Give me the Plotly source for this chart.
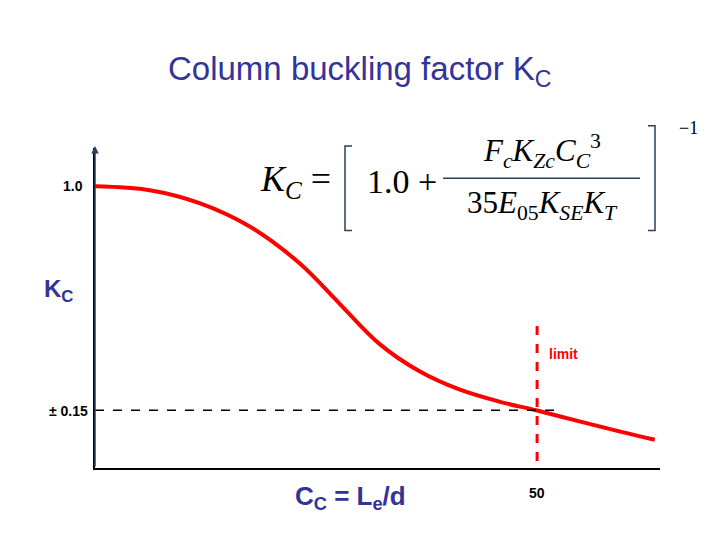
import plotly.graph_objects as go

cc = [0, 6.2, 11.9, 17.5, 23.2, 27.7, 32.2, 36.7, 41.2, 45.7, 50, 54.9, 59.4, 63.3]
kc = [1.0, 0.985, 0.935, 0.847, 0.706, 0.553, 0.401, 0.298, 0.229, 0.183, 0.149, 0.107, 0.069, 0.038]
limit_c = 50
kc_min = 0.15

BLUE = "#333399"
OFF = 8
L, R, T, B = 95 - OFF, 660 - OFF, 150 - OFF, 468 - OFF
def px(x): return (x - OFF - L) / (R - L)
def py(y): return (B - (y - OFF)) / (B - T)

fig = go.Figure()
fig.add_trace(go.Scatter(x=cc, y=kc, mode="lines", line=dict(color="red", width=4, shape="spline"),
                         hoverinfo="skip"))
fig.add_trace(go.Scatter(x=[limit_c, limit_c], y=[0.47, -0.069], mode="lines",
                         line=dict(color="red", width=3, dash="dash"), hoverinfo="skip"))
fig.add_trace(go.Scatter(x=[0, 52.5], y=[kc_min, kc_min], mode="lines",
                         line=dict(color="black", width=1.5, dash="dash"), hoverinfo="skip"))

ann = []
def t(x, y, text, size, color="black", family="Arial", bold=False, xanchor="center"):
    if bold: text = "<b>" + text + "</b>"
    ann.append(dict(x=px(x), y=py(y), xref="paper", yref="paper", text=text, showarrow=False,
                    font=dict(size=size, color=color, family=family), xanchor=xanchor, yanchor="middle"))

t(360, 73, "Column buckling factor K<sub>C</sub>", 33, BLUE, "Arial")
t(85, 188, "1.0", 14, bold=True, xanchor="right")
t(90, 411, "± 0.15", 14, bold=True, xanchor="right")
t(537, 493, "50", 14, bold=True)
t(547, 355, "limit", 14, "red", bold=True, xanchor="left")
t(58, 292, "K<sub>C</sub>", 24, BLUE, bold=True)
t(350, 497, "C<sub>C</sub> = L<sub>e</sub>/d", 26, BLUE, bold=True)
TF = "Liberation Serif, Times New Roman, serif"
t(295, 183, "<i>K<sub>C</sub></i> =", 36, family=TF)
t(402, 183, "1.0 +", 34, family=TF)
t(542, 153, "<i>F<sub>c</sub>K<sub>Zc</sub>C<sub>C</sub></i><sup>3</sup>", 31, family=TF)
t(542, 207, "35<i>E</i><sub>05</sub><i>K<sub>SE</sub>K<sub>T</sub></i>", 31, family=TF)
t(688, 130, "−1", 18, family=TF)

ann.append(dict(x=0, y=py(148), ax=0, ay=py(468), xref="x domain", yref="y domain",
                axref="x domain", ayref="y domain", showarrow=True, arrowhead=2, arrowsize=1, arrowwidth=1.5, text=""))

shapes = [
    dict(type="line", xref="paper", yref="paper", x0=px(443), x1=px(640), y0=py(180), y1=py(180), line=dict(width=1.5)),
    dict(type="path", xref="paper", yref="paper",
         path=f"M {px(352)} {py(148)} L {px(345)} {py(148)} L {px(345)} {py(232)} L {px(352)} {py(232)}", line=dict(width=1.5)),
    dict(type="path", xref="paper", yref="paper",
         path=f"M {px(648)} {py(128)} L {px(655)} {py(128)} L {px(655)} {py(232)} L {px(648)} {py(232)}", line=dict(width=1.5)),
]

fig.update_layout(
    width=720, height=540, margin=dict(l=L, r=720 - R, t=T - 2, b=540 - B),
    paper_bgcolor="white", plot_bgcolor="white", showlegend=False,
    annotations=ann, shapes=shapes,
    xaxis=dict(range=[0, 63.9], showgrid=False, zeroline=False, showticklabels=False,
               showline=True, linecolor="black", linewidth=1.5),
    yaxis=dict(range=[-0.069, 1.145], showgrid=False, zeroline=False, showticklabels=False,
               showline=True, linecolor="black", linewidth=1.5),
)
fig.write_html("out.html")
